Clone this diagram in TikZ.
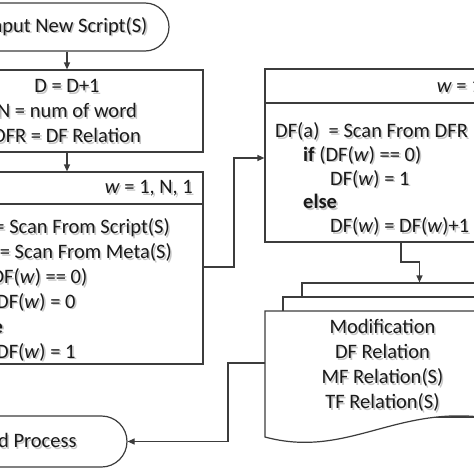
\documentclass[tikz,border=0pt]{standalone}
\usepackage{fontspec}
\setmainfont{Carlito}
\usetikzlibrary{arrows.meta}
\definecolor{edge}{HTML}{3C3C3C}
\definecolor{ink}{HTML}{1A1A1A}
% soft text shadow as in the figure
\newcommand{\shd}[1]{\rlap{\textcolor{black!22}{\raisebox{-1.6pt}{\hspace*{1.6pt}#1}}}#1}

\begin{document}
\begin{tikzpicture}[x=1pt, y=-1pt,
        every node/.style={font=\fontsize{20.5}{25}\selectfont, text=ink},
        term/.style={draw=edge, line width=1.2pt, fill=white, inner sep=0pt},
        box/.style={draw=edge, line width=1.2pt, fill=white, inner sep=0pt},
        sheet/.style={draw=edge, line width=1.2pt, fill=white},
        txt/.style={inner sep=0pt},
        arr/.style={draw=edge, line width=1.2pt, -{Triangle[length=7pt,width=6pt]}}
    ]
    \fill[white] (0,0) rectangle (474,474);
    \useasboundingbox (0,0) rectangle (474,474);
    \clip (0,0) rectangle (474,474);

    % 开始 / 结束
    \node[term, rounded corners=24pt, minimum width=204pt, minimum height=48pt] (start) at (67,27) {\shd{Input New Script(S)}};
    \node[term, rounded corners=25.5pt, minimum width=200pt, minimum height=51pt] (endp) at (27,441.5) {\shd{End Process}};

    % 初始化
    \node[box, minimum width=272pt, minimum height=82pt] (calc) at (67,111) {};
    \foreach \t [count=\i] in {D = D+1, N = num of word, DFR = DF Relation}
        \node[txt, anchor=base] (calc\i) at (67,67.7+25*\i) {\shd{\t}};

    % 循环 w = 1, N, 1
    \node[box, minimum width=272pt, minimum height=32pt] (loophead) at (67,188) {};
    \node[box, minimum width=272pt, minimum height=160pt] (loopbody) at (67,284) {};
    \node[txt, anchor=base east] (loopw) at (193,193.6) {\shd{\textit{w} = 1, N, 1}};
    \node[txt, anchor=base east] (loop1) at (170,233.6) {\shd{= Scan From Script(S)}};
    \node[txt, anchor=base east] (loop2) at (172,258.5) {\shd{= Scan From Meta(S)}};
    \node[txt, anchor=base west] (loop3) at (-31,283.4) {\shd{\textbf{if} (DF(\textit{w}) == 0)}};
    \node[txt, anchor=base west] (loop4) at (-4,308.3) {\shd{DF(\textit{w}) = 0}};
    \node[txt, anchor=base west] (loop5) at (-31,333.2) {\shd{\textbf{else}}};
    \node[txt, anchor=base west] (loop6) at (-4,358.1) {\shd{DF(\textit{w}) = 1}};

    % DFR 扫描
    \node[box, minimum width=270pt, minimum height=34pt] (scanhead) at (400,86) {};
    \node[box, minimum width=270pt, minimum height=139pt] (scanbody) at (400,172.5) {};
    \node[txt, anchor=base east] (scanw) at (525,92.6) {\shd{\textit{w} = 1, N, 1}};
    \node[txt, anchor=base west] (scan1) at (275,137.6) {\shd{DF(a)\ \ = Scan From DFR}};
    \node[txt, anchor=base west] (scan2) at (303,161.3) {\shd{\textbf{if} (DF(\textit{w}) == 0)}};
    \node[txt, anchor=base west] (scan3) at (330,185) {\shd{DF(\textit{w}) = 1}};
    \node[txt, anchor=base west] (scan4) at (303,208.7) {\shd{\textbf{else}}};
    \node[txt, anchor=base west] (scan5) at (330,232.4) {\shd{DF(\textit{w}) = DF(\textit{w})+1}};

    % 多文档
    \node[box, minimum width=235pt, minimum height=120pt] (back) at (419.5,343) {};
    \node[box, minimum width=235pt, minimum height=120pt] (mid) at (400.5,357) {};
    \coordinate (front) at (265,311);
    \draw[sheet] (front) -- (500,311) -- (500,420)
        .. controls (400,400) and (350,460) .. (265,437) -- cycle;
    \foreach \t [count=\i] in {Modification, DF Relation, MF Relation(S), TF Relation(S)}
        \node[txt, anchor=base] (doc\i) at (382.5,308.6+25*\i) {\shd{\t}};

    % 连线
    \coordinate (b1) at (234,267);
    \coordinate (b2) at (234,158);
    \coordinate (j2) at (401,262);
    \coordinate (j3) at (228,363);
    \draw[arr] (start.south) -- (calc.north);
    \draw[arr] (calc.south) -- (loophead.north);
    \draw[arr] (loopbody.east |- b1) -- (b1) -- (b2) -- (scanbody.west |- b2);
    \draw[arr] (scanbody.south -| j2) -- (j2) -| (back.north);
    \draw[arr] (front |- j3) -- (j3) |- (endp.east);
\end{tikzpicture}
\end{document}
